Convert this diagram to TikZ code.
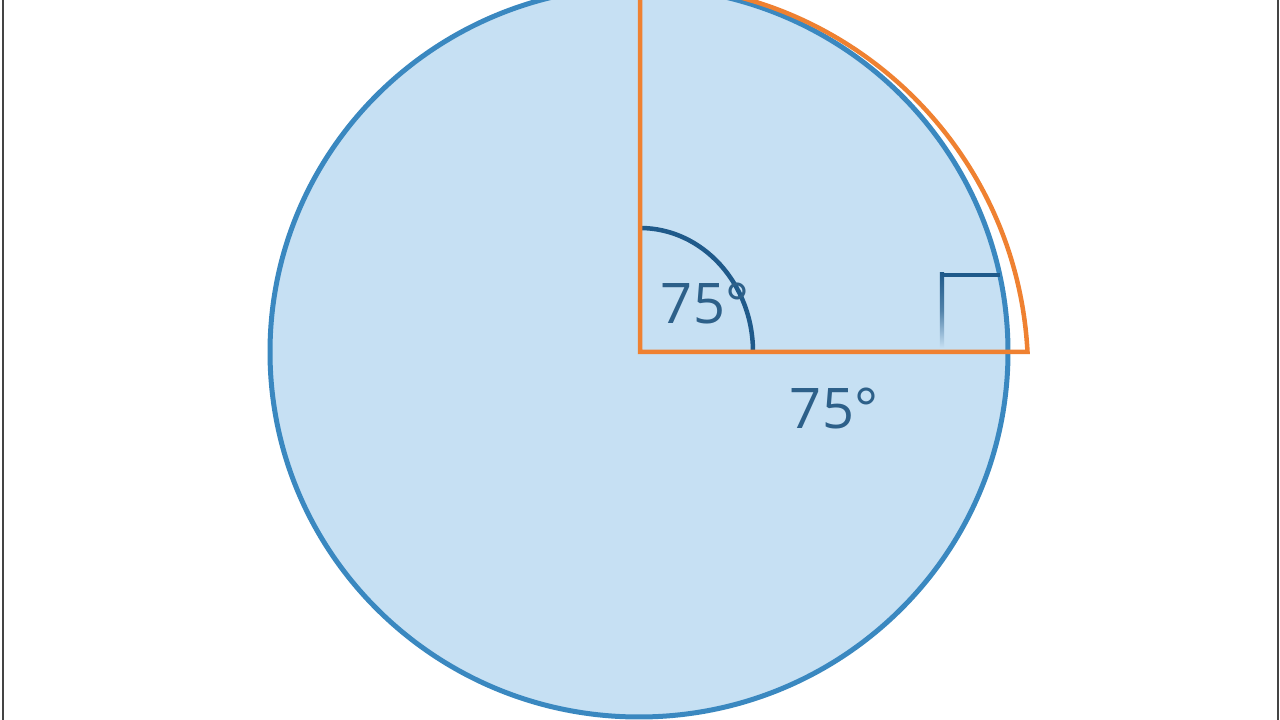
\documentclass[tikz,border=0pt]{standalone}
\usepackage{fontspec}
\setmainfont{Open Sans}
\definecolor{circfill}{HTML}{C6E0F3}
\definecolor{circline}{HTML}{3A88C0}
\definecolor{orangeline}{HTML}{EF8131}
\definecolor{angleblue}{HTML}{1F5A8A}
\definecolor{textblue}{HTML}{2D6089}
\definecolor{framegray}{HTML}{444444}
\tikzset{
  orangepath/.style={draw=orangeline, line width=4.5pt, line join=miter},
  anglemark/.style={draw=angleblue, line width=4.5pt},
  anglelabel/.style={text=textblue, inner sep=0pt, font=\fontsize{56}{60}\selectfont},
}
\begin{document}
\begin{tikzpicture}[x=1pt,y=1pt]
\useasboundingbox (0,0) rectangle (1280,720);
\fill[white] (0,0) rectangle (1280,720);
\begin{scope}
\clip (0,0) rectangle (1280,720);
% circle
\coordinate (C) at (640,368);
\draw[fill=circfill, draw=circline, line width=5pt] (639,368) ellipse [x radius=369pt, y radius=365pt];
% angle arc
\draw[anglemark] (753,368) arc [start angle=0, end angle=90, x radius=113pt, y radius=124pt];
% right angle mark
\shade[top color=angleblue, bottom color=circfill, middle color=angleblue!70!circfill] (939.8,372) rectangle (944.2,447);
\draw[anglemark] (942,445) -- (1000,445);
% orange sector
\coordinate (T) at (640,745);
\coordinate (R) at (1027.5,368);
\draw[orangepath] (T) -- (C) -- (R) arc [start angle=3, end angle=90, radius=388pt];
\end{scope}
% labels
\node[anglelabel] (upper) at (705,416) {75°};
\node[anglelabel] (lower) at (834,311) {75°};
% frame
\draw[framegray, line width=2pt] (2.5,0) -- (2.5,720);
\draw[framegray, line width=2pt] (1277.5,0) -- (1277.5,720);
\end{tikzpicture}
\end{document}
